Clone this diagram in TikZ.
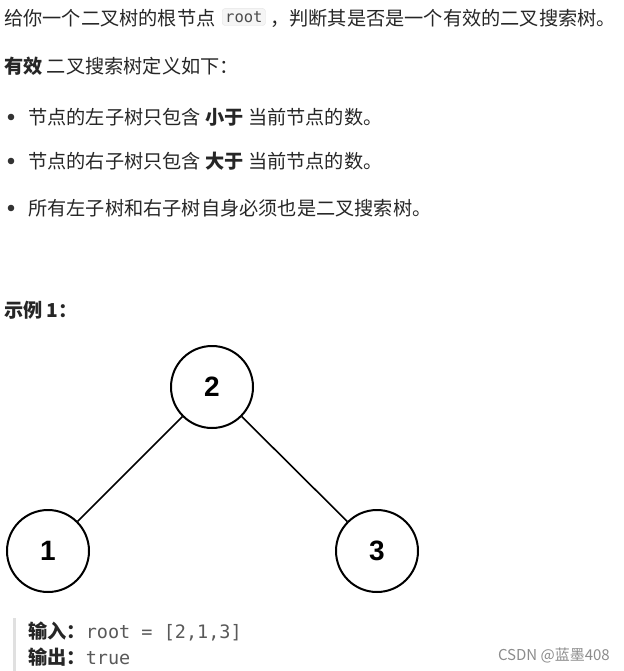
\documentclass[tikz,border=0pt]{standalone}
\usepackage{fontspec}
\setmainfont{Noto Sans CJK SC}
\setmonofont{DejaVu Sans Mono}
\newfontfamily\numf{Liberation Sans}
\begin{document}
\begin{tikzpicture}[x=1pt,y=-1pt,
  txt/.style={anchor=west,inner sep=0pt,font=\fontsize{19.2}{21}\selectfont,text=black!85},
  tn/.style={circle,draw,line width=2pt,minimum size=82pt,inner sep=0pt,font=\numf\bfseries\fontsize{28}{30}\selectfont},
  edge/.style={line width=1.6pt}]
\useasboundingbox (0,0) rectangle (623,671);
\node[txt] (l1) at (4,18) {给你一个二叉树的根节点};
\node[anchor=west,inner sep=3pt,fill=black!4,draw=black!10,rounded corners=3pt,font=\ttfamily\fontsize{15.5}{17}\selectfont,text=black!70] (code) at (222,17) {root};
\node[txt] (l1b) at (270,18) {，判断其是否是一个有效的二叉搜索树。};
\node[txt] (l2) at (4,66) {{\bfseries 有效} 二叉搜索树定义如下：};
\foreach \y/\t [count=\i] in {117/{节点的左子树只包含 {\bfseries 小于} 当前节点的数。},161/{节点的右子树只包含 {\bfseries 大于} 当前节点的数。},208/{所有左子树和右子树自身必须也是二叉搜索树。}}{
  \fill[black!80] (11,\y) circle (3.3pt);
  \node[txt] (b\i) at (28,\y) {\t};
}
\node[txt] (ex) at (4,310) {\bfseries 示例 1：};
\node[tn] (n2) at (212,387) {2};
\node[tn] (n1) at (48,551) {1};
\node[tn] (n3) at (377,551) {3};
\draw[edge] (n2) -- (n1);
\draw[edge] (n2) -- (n3);
\fill[black!12] (13,618) rectangle (16,671);
\node[txt] (in) at (28,631) {\bfseries 输入：\mdseries\ttfamily\color{black!65}\fontsize{18.5}{20}\selectfont root = [2,1,3]};
\node[txt] (out) at (28,657) {\bfseries 输出：\mdseries\ttfamily\color{black!65}\fontsize{18.5}{20}\selectfont true};
\node[anchor=east,inner sep=0pt,font=\fontsize{15}{17}\selectfont,text=black!45] (wm) at (610,655) {CSDN @蓝墨408};
\end{tikzpicture}
\end{document}
